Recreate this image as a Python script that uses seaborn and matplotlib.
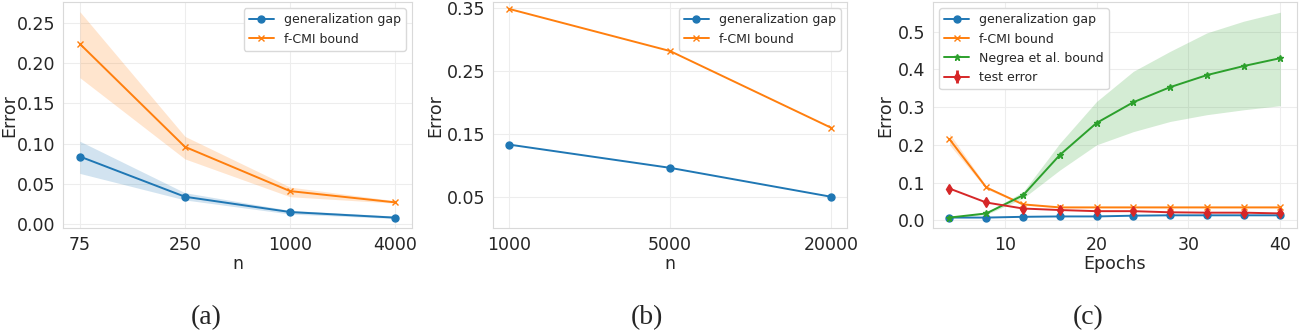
import numpy as np
import matplotlib
matplotlib.use("Agg")
import matplotlib.pyplot as plt
import seaborn as sns

# %% data
n_a = ["75", "250", "1000", "4000"]
gap_a = [0.084, 0.034, 0.015, 0.008]
gap_a_lo = [0.063, 0.030, 0.0125, 0.007]
gap_a_hi = [0.103, 0.039, 0.017, 0.010]
fcmi_a = [0.224, 0.096, 0.041, 0.027]
fcmi_a_lo = [0.182, 0.081, 0.034, 0.026]
fcmi_a_hi = [0.264, 0.109, 0.046, 0.029]

n_b = ["1000", "5000", "20000"]
gap_b = [0.133, 0.096, 0.050]
fcmi_b = [0.349, 0.282, 0.160]

epochs = [4, 8, 12, 16, 20, 24, 28, 32, 36, 40]
gap_c = [0.007, 0.007, 0.009, 0.010, 0.010, 0.012, 0.013, 0.013, 0.013, 0.013]
fcmi_c = [0.215, 0.087, 0.042, 0.034, 0.034, 0.034, 0.034, 0.034, 0.034, 0.034]
fcmi_c_lo = [0.200, 0.083, 0.040, 0.033, 0.033, 0.033, 0.033, 0.033, 0.033, 0.033]
fcmi_c_hi = [0.230, 0.091, 0.044, 0.035, 0.035, 0.035, 0.035, 0.035, 0.035, 0.035]
negrea_c = [0.007, 0.018, 0.066, 0.173, 0.258, 0.313, 0.353, 0.385, 0.409, 0.430]
negrea_c_lo = [0.006, 0.015, 0.058, 0.133, 0.200, 0.235, 0.262, 0.280, 0.293, 0.304]
negrea_c_hi = [0.008, 0.021, 0.075, 0.204, 0.315, 0.395, 0.448, 0.497, 0.528, 0.552]
test_c = [0.084, 0.047, 0.031, 0.027, 0.024, 0.024, 0.021, 0.020, 0.020, 0.018]
test_c_err = [0.008, 0.006, 0.005, 0.005, 0.005, 0.005, 0.005, 0.005, 0.005, 0.005]

# %% style
sns.set_style("whitegrid", {"axes.edgecolor": "0.85", "grid.color": "0.93"})
plt.rcParams["font.family"] = ["DejaVu Sans"]
pal = sns.color_palette("tab10")
c_blue, c_orange, c_green, c_red = pal[0], pal[1], pal[2], pal[3]

fig = plt.figure(figsize=(12.99, 3.34), dpi=100)
ax_a = fig.add_axes([0.0485, 0.317, 0.2687, 0.677])
ax_b = fig.add_axes([0.3795, 0.317, 0.2725, 0.677])
ax_c = fig.add_axes([0.7182, 0.317, 0.2802, 0.677])

line_kw = dict(lw=1.4, markersize=5)

# %% (a)
xa = np.arange(len(n_a))
ax_a.fill_between(xa, gap_a_lo, gap_a_hi, color=c_blue, alpha=0.2, lw=0)
ax_a.fill_between(xa, fcmi_a_lo, fcmi_a_hi, color=c_orange, alpha=0.2, lw=0)
ax_a.plot(xa, gap_a, "o-", color=c_blue, label="generalization gap", **line_kw)
ax_a.plot(xa, fcmi_a, "x-", color=c_orange, label="f-CMI bound", **line_kw)
ax_a.set_xticks(xa)
ax_a.set_xticklabels(n_a)
ax_a.set_yticks([0.0, 0.05, 0.10, 0.15, 0.20, 0.25])
ax_a.set_ylim(-0.005, 0.276)
ax_a.set_xlim(-0.16, 3.16)

# %% (b)
xb = np.arange(len(n_b))
ax_b.plot(xb, gap_b, "o-", color=c_blue, label="generalization gap", **line_kw)
ax_b.plot(xb, fcmi_b, "x-", color=c_orange, label="f-CMI bound", **line_kw)
ax_b.set_xticks(xb)
ax_b.set_xticklabels(n_b)
ax_b.set_yticks([0.05, 0.15, 0.25, 0.35])
ax_b.set_ylim(0.0, 0.36)

# %% (c)
ax_c.fill_between(epochs, fcmi_c_lo, fcmi_c_hi, color=c_orange, alpha=0.2, lw=0)
ax_c.fill_between(epochs, negrea_c_lo, negrea_c_hi, color=c_green, alpha=0.2, lw=0)
ax_c.plot(epochs, gap_c, "o-", color=c_blue, label="generalization gap", **line_kw)
ax_c.plot(epochs, fcmi_c, "x-", color=c_orange, label="f-CMI bound", **line_kw)
ax_c.plot(epochs, negrea_c, "*-", color=c_green, label="Negrea et al. bound", **line_kw)
ax_c.errorbar(epochs, test_c, yerr=test_c_err, fmt="d-", color=c_red,
              label="test error", lw=1.4, markersize=5, elinewidth=2)
ax_c.set_yticks([0.0, 0.1, 0.2, 0.3, 0.4, 0.5])
ax_c.set_ylim(-0.021, 0.579)
ax_c.set_xlabel("Epochs", fontsize=12.5, labelpad=1)

for ax in (ax_a, ax_b):
    ax.set_xlabel("n", fontsize=12.5, labelpad=1)

for ax, loc, lx in [(ax_a, "upper right", -0.128), (ax_b, "upper right", -0.138),
                    (ax_c, "upper left", -0.107)]:
    ax.set_ylabel("Error", fontsize=12.5)
    ax.yaxis.set_label_coords(lx, 0.5)
    ax.tick_params(labelsize=12.5, pad=2)
    ax.legend(loc=loc, fontsize=9, framealpha=1, edgecolor="0.85")

# captions
for x, s in [(0.159, "(a)"), (0.498, "(b)"), (0.838, "(c)")]:
    fig.text(x, 0.048, s, ha="center", va="center", fontsize=20, family="Liberation Serif")

fig.savefig("out.png", dpi=100)
